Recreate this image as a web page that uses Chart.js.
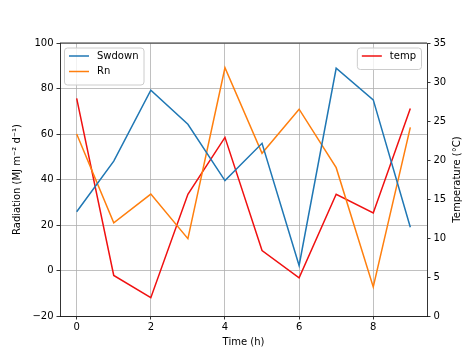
<!DOCTYPE html>
<html>
<head>
<meta charset="utf-8">
<script src="https://cdn.jsdelivr.net/npm/chart.js@4/dist/chart.umd.min.js"></script>
<style>
html,body{margin:0;padding:0;background:#fff;}
#wrap{width:474px;height:355px;position:relative;}
</style>
</head>
<body>
<div id="wrap"><canvas id="c" width="474" height="355"></canvas></div>
<script>
// ---- data ----
const times = [0, 1, 2, 3, 4, 5, 6, 7, 8, 9];
const swdown = [25.8, 48.1, 79.3, 64.3, 39.5, 55.9, 2.2, 88.9, 75.0, 19.0];
const rn = [60.0, 21.0, 33.6, 14.0, 89.1, 51.5, 70.9, 45.2, -7.2, 62.9];
const temp = [27.9, 5.2, 2.35, 15.6, 22.9, 8.4, 4.9, 15.6, 13.2, 26.6];
const xTicks = [0, 2, 4, 6, 8];
const leftTicks = [-20, 0, 20, 40, 60, 80, 100];
const rightTicks = [0, 5, 10, 15, 20, 25, 30, 35];
const xTitle = 'Time (h)';
const leftTitle = 'Radiation (MJ m\u207B\u00B2 d\u207B\u00B9)';
const rightTitle = 'Temperature (\u00B0C)';

const FONT = '"DejaVu Sans", sans-serif';
const pts = arr => times.map((t, i) => ({x: t, y: arr[i]}));
const fmt = v => String(v).replace('-', '\u2212');

const decor = {
  id: 'decor',
  afterDraw(chart) {
    const ctx = chart.ctx, a = chart.chartArea;
    ctx.save();
    // top spine
    ctx.strokeStyle = '#000'; ctx.lineWidth = 0.8;
    ctx.beginPath(); ctx.moveTo(a.left, a.top); ctx.lineTo(a.right, a.top); ctx.stroke();
    // titles
    ctx.fillStyle = '#000';
    ctx.font = '10px ' + FONT;
    ctx.textAlign = 'center'; ctx.textBaseline = 'middle';
    ctx.fillText(xTitle, (a.left + a.right) / 2, 342);
    const cy = (a.top + a.bottom) / 2;
    ctx.save(); ctx.translate(17, cy); ctx.rotate(-Math.PI / 2); ctx.fillText(leftTitle, 0, 0); ctx.restore();
    ctx.save(); ctx.translate(457, cy); ctx.rotate(-Math.PI / 2); ctx.fillText(rightTitle, 0, 0); ctx.restore();
    // legends
    function legend(items, x0, y0, alignRight) {
      ctx.font = '10px ' + FONT;
      const tw = Math.max(...items.map(d => ctx.measureText(d.label).width));
      const w = 5 + 20 + 8 + tw + 5;
      const h = 4 + items.length * 15.5 + 2;
      const bx = alignRight ? x0 - w : x0;
      ctx.beginPath();
      ctx.roundRect(bx + 0.5, y0 + 0.5, w, h, 3);
      ctx.fillStyle = 'rgba(255,255,255,0.8)'; ctx.fill();
      ctx.strokeStyle = '#cccccc'; ctx.lineWidth = 1; ctx.stroke();
      items.forEach((d, i) => {
        const yy = y0 + 8.5 + i * 15.5;
        ctx.strokeStyle = d.borderColor; ctx.lineWidth = 1.5;
        ctx.beginPath(); ctx.moveTo(bx + 5, yy); ctx.lineTo(bx + 25, yy); ctx.stroke();
        ctx.fillStyle = '#000'; ctx.textAlign = 'left'; ctx.textBaseline = 'middle';
        ctx.fillText(d.label, bx + 33, yy);
      });
    }
    const ds = chart.data.datasets;
    legend([ds[0], ds[1]], 64, 47.5, false);
    legend([ds[2]], 421, 47.5, true);
    ctx.restore();
  }
};

new Chart(document.getElementById('c'), {
  type: 'line',
  data: {
    datasets: [
      {label: 'Swdown', data: pts(swdown), borderColor: '#1f77b4', yAxisID: 'y'},
      {label: 'Rn', data: pts(rn), borderColor: '#ff7f0e', yAxisID: 'y'},
      {label: 'temp', data: pts(temp), borderColor: '#f01010', yAxisID: 'y2'}
    ]
  },
  options: {
    responsive: false,
    animation: false,
    layout: {padding: {top: 43, left: 0, right: 0, bottom: 0}},
    elements: {point: {radius: 0}, line: {borderWidth: 1.5, tension: 0}},
    plugins: {legend: {display: false}, tooltip: {enabled: false}},
    scales: {
      x: {
        type: 'linear', min: -0.45, max: 9.45,
        afterBuildTicks: s => { s.ticks = xTicks.map(v => ({value: v})); },
        afterFit: s => { s.height = 39; },
        grid: {color: '#b0b0b0', lineWidth: 0.8, tickColor: '#000', tickLength: 3.5},
        border: {color: '#000', width: 0.8},
        ticks: {font: {family: FONT, size: 10}, color: '#000', padding: 2, maxRotation: 0, callback: fmt}
      },
      y: {
        position: 'left', min: -20, max: 100,
        afterBuildTicks: s => { s.ticks = leftTicks.map(v => ({value: v})); },
        afterFit: s => { s.width = 60; },
        grid: {color: '#b0b0b0', lineWidth: 0.8, tickColor: '#000', tickLength: 3.5},
        border: {color: '#000', width: 0.8},
        ticks: {font: {family: FONT, size: 10}, color: '#000', padding: 3, callback: fmt}
      },
      y2: {
        position: 'right', min: 0, max: 35,
        afterBuildTicks: s => { s.ticks = rightTicks.map(v => ({value: v})); },
        afterFit: s => { s.width = 47; },
        grid: {drawOnChartArea: false, color: '#000', lineWidth: 0.8, tickColor: '#000', tickLength: 3.5},
        border: {color: '#000', width: 0.8},
        ticks: {font: {family: FONT, size: 10}, color: '#000', padding: 3, callback: fmt}
      }
    }
  },
  plugins: [decor]
});
</script>
</body>
</html>
